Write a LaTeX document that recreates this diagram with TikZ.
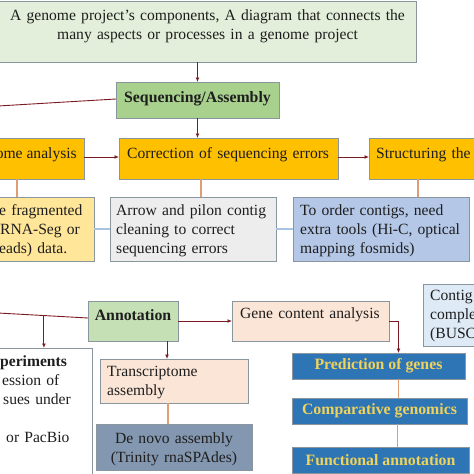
\documentclass[tikz,border=0pt]{standalone}
\usepackage{fontspec}
\setmainfont{Liberation Serif}
\usetikzlibrary{arrows.meta,calc}
\definecolor{boxline}{HTML}{8A969E}
\definecolor{topfill}{HTML}{E3EFDA}
\definecolor{seqfill}{HTML}{A9D18E}
\definecolor{orfill}{HTML}{FFC000}
\definecolor{yelfill}{HTML}{FFE699}
\definecolor{grayfill}{HTML}{EDEDED}
\definecolor{bluefill}{HTML}{B4C7E7}
\definecolor{annfill}{HTML}{C5E0B4}
\definecolor{peach}{HTML}{FBE5D6}
\definecolor{denovo}{HTML}{8497B0}
\definecolor{contigfill}{HTML}{DEEBF7}
\definecolor{darkblue}{HTML}{2E75B6}
\definecolor{goldtext}{HTML}{EFD35A}
\definecolor{darkred}{HTML}{7B1C24}
\definecolor{salmon}{HTML}{DE9D74}
\definecolor{lblue}{HTML}{A7C4E0}
\definecolor{txtcol}{HTML}{1E1E1E}
\begin{document}
\begin{tikzpicture}[x=1pt,y=-1pt,
  font=\fontsize{15.6}{19}\selectfont,
  bx/.style={draw=boxline, line width=0.8pt, inner sep=0pt, outer sep=0pt, anchor=north west},
  txt/.style={inner sep=0pt, anchor=base west, text width=220pt, align=left, text=txtcol},
  ctxt/.style={inner sep=0pt, text=txtcol, align=center},
  btxt/.style={inner sep=0pt, text=goldtext, font=\fontsize{15.8}{19}\selectfont\bfseries},
  redarrow/.style={draw=darkred, line width=0.9pt, -{Latex[length=4.5pt,width=4pt]}},
  redline/.style={draw=darkred, line width=0.9pt},
  salline/.style={draw=salmon, line width=1.1pt},
  blueline/.style={draw=lblue, line width=1.1pt}]
\useasboundingbox (0,0) rectangle (474,474);
\clip (0,0) rectangle (474,474);
\fill[white] (0,0) rectangle (474,474);

% boxes
\node[bx, fill=topfill, minimum width=417pt, minimum height=61pt] (top) at (-1,1) {};
\node[bx, fill=seqfill, minimum width=163pt, minimum height=36pt] (seq) at (116,82) {};
\node[bx, fill=orfill, minimum width=89pt, minimum height=41pt] (ga) at (-5,138) {};
\node[bx, fill=orfill, minimum width=219pt, minimum height=41pt] (corr) at (119,138) {};
\node[bx, fill=orfill, minimum width=120pt, minimum height=41pt] (struct) at (369,138) {};
\node[bx, fill=yelfill, minimum width=99pt, minimum height=64pt] (yel) at (-5,197) {};
\node[bx, fill=grayfill, minimum width=166pt, minimum height=64pt] (gray) at (110,197) {};
\node[bx, fill=bluefill, minimum width=176pt, minimum height=64pt] (blue) at (293,197) {};
\node[bx, fill=annfill, minimum width=90pt, minimum height=40pt] (ann) at (88,301) {};
\node[bx, fill=white, minimum width=97pt, minimum height=140pt] (white) at (-5,348) {};
\node[bx, fill=peach, minimum width=148pt, minimum height=44pt] (trans) at (100,359) {};
\node[bx, fill=denovo, minimum width=156pt, minimum height=46pt] (dn) at (96,424) {};
\node[bx, fill=peach, minimum width=157pt, minimum height=40pt] (gene) at (232,301) {};
\node[bx, fill=contigfill, minimum width=60pt, minimum height=62pt] (contig) at (423,284) {};
\node[bx, fill=darkblue, minimum width=173pt, minimum height=26pt] (pred) at (292,353) {};
\node[bx, fill=darkblue, minimum width=175pt, minimum height=26pt] (comp) at (292,398) {};
\node[bx, fill=darkblue, minimum width=177pt, minimum height=26pt] (func) at (292,447) {};

% texts
\node[ctxt, anchor=base, text width=416pt] (top-t) at (207.5,20) {A genome project's components, A diagram that connects the\\many aspects or processes in a genome project};
\node[ctxt, font=\fontsize{15.8}{19}\selectfont\bfseries] (seq-t) at (197.5,99) {Sequencing/Assembly};
\node[inner sep=0pt, anchor=base east, text=txtcol] (ga-t) at (77,158) {ome analysis};
\node[txt] (corr-t) at (127,158) {Correction of sequencing errors};
\node[txt] (struct-t) at (376,158) {Structuring the};
\node[txt] (yel-t) at (-1,215) {e fragmented\\\hspace*{1pt}RNA-Seg or\\eads) data.};
\node[txt] (gray-t) at (116,215) {Arrow and pilon contig\\cleaning to correct\\sequencing errors};
\node[txt] (blue-t) at (300,215) {To order contigs, need\\extra tools (Hi-C, optical\\mapping fosmids)};
\node[ctxt, font=\fontsize{15.8}{19}\selectfont\bfseries] (ann-t) at (133,315) {Annotation};
\node[txt] (white-t) at (0,366) {\textbf{periments}\\\hspace*{2pt}ession of\\\hspace*{3pt}sues under\\[19pt]\hspace*{6pt}or PacBio};
\node[txt] (trans-t) at (107,376) {Transcriptome\\assembly};
\node[ctxt, text width=156pt] (dn-t) at (174,449) {De novo assembly\\(Trinity rnaSPAdes)};
\node[txt] (gene-t) at (240,318) {Gene content analysis};
\node[txt] (contig-t) at (430,300) {Contig\\comple\\(BUSCO};
\node[btxt] (pred-t) at (378.5,366) {Prediction of genes};
\node[btxt] (comp-t) at (379.5,411) {Comparative genomics};
\node[btxt] (func-t) at (380.5,460) {Functional annotation};

% connectors
\coordinate (L1) at (-2,106);
\coordinate (L2) at (-2,313);
\draw[redarrow] (seq.north |- top.south) -- (seq.north);
\draw[redarrow] (seq.south) -- (seq.south |- corr.north);
\draw[redline] ([yshift=1pt]seq.west) -- (L1);
\draw[redarrow] ([yshift=1.5pt]ga.east) -- ([yshift=1.5pt]corr.west);
\draw[redarrow] ([yshift=1.5pt]corr.east) -- ([yshift=1.5pt]struct.west);
\draw[salline] ([xshift=22pt]yel.north west) -- ([xshift=22pt]yel.north west |- ga.south);
\draw[salline] ([xshift=8pt]gray.north) -- ([xshift=8pt]gray.north |- corr.south);
\draw[salline] ([xshift=37pt]blue.north) -- ([xshift=37pt]blue.north |- struct.south);
\draw[blueline] (yel.east) -- (gray.west);
\draw[blueline] (gray.east) -- (blue.west);
\draw[redline] (L2) -- coordinate[pos=0.51] (M) ([yshift=3pt]ann.west);
\draw[redarrow] (M) -- (M |- white.north);
\draw[redarrow] ([xshift=34pt]ann.south) -- ([xshift=34pt]ann.south |- trans.north);
\draw[salline] ([xshift=-6pt]trans.south) -- ([xshift=-6pt]trans.south |- dn.north);
\draw[redarrow] (ann.east) -- (gene.west);
\draw[redarrow] (gene.east) -| ([xshift=20pt]pred.north);
\draw[salline] ([xshift=20pt]pred.south) -- ([xshift=20pt]pred.south |- comp.north);
\draw[salline] ([xshift=18pt]comp.south) -- ([xshift=18pt]comp.south |- func.north);
\end{tikzpicture}
\end{document}
